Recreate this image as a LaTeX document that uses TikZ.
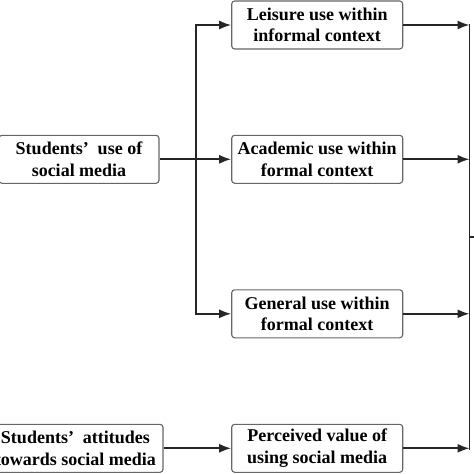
\documentclass[tikz,border=0pt]{standalone}
\usepackage{fontspec}
\setmainfont{Liberation Serif}
\usetikzlibrary{arrows.meta}
\begin{document}
\begin{tikzpicture}[x=1pt,y=-1pt,
  box/.style={draw=black!60, rounded corners=3pt, line width=1.1pt, fill=white,
    align=center, font=\bfseries\fontsize{18}{21.5}\selectfont, inner sep=0pt,
    minimum width=171pt, minimum height=48pt},
  conn/.style={line width=1.7pt, draw=black!85, -{Latex[length=12pt,width=9pt]}},
  plain/.style={line width=1.7pt, draw=black!85}]
\useasboundingbox (0,0) rectangle (474,474);
\clip (0,0) rectangle (474,474);
\node[box] (le) at (317.2,25) {Leisure use within\\informal context};
\node[box] (ac) at (317.2,159.3) {Academic use within\\formal context};
\node[box] (ge) at (317.2,313.8) {General use within\\formal context};
\node[box] (pv) at (317.2,448.3) {Perceived value of\\using social media};
\node[box, minimum width=160pt] (su) at (79,159.3) {Students’\ \ use of\\social media};
\node[box, minimum width=175pt] (sa) at (75.5,448.3) {Students’\ \ attitudes\\towards social media};
\coordinate (j) at (196,159.3);
\coordinate (r) at (469.5,237);
\coordinate (rt) at (469.5,24);
\coordinate (rb) at (469.5,450);
\coordinate (out) at (474,237);
\draw[conn] (su.east) -- (ac.west);
\draw[conn] (j) |- (le.west);
\draw[conn] (j) |- (ge.west);
\draw[conn] (sa.east) -- (pv.west);
\draw[conn] (le.east) -- (le.east -| r);
\draw[conn] (ac.east) -- (ac.east -| r);
\draw[conn] (ge.east) -- (ge.east -| r);
\draw[conn] (pv.east) -- (pv.east -| r);
\draw[plain] (rt) -- (rb);
\draw[plain] (r) -- (out);
\end{tikzpicture}
\end{document}
